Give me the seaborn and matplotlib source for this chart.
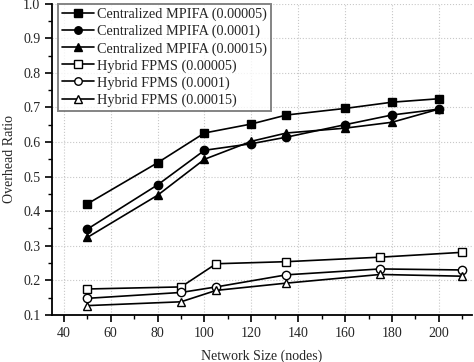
import numpy as np
import pandas as pd
import matplotlib
matplotlib.use("Agg")
import matplotlib.pyplot as plt
import seaborn as sns
from matplotlib.ticker import MultipleLocator

# Datos
x_central = [50, 80, 100, 120, 135, 160, 180, 200]
mpifa_00005 = [0.421, 0.540, 0.626, 0.652, 0.678, 0.697, 0.715, 0.725]
mpifa_0001 = [0.348, 0.476, 0.576, 0.595, 0.614, 0.650, 0.678, 0.695]
mpifa_00015 = [0.324, 0.446, 0.550, 0.602, 0.626, 0.640, 0.657, 0.695]

x_hybrid = [50, 90, 105, 135, 175, 210]
fpms_00005 = [0.175, 0.181, 0.248, 0.254, 0.267, 0.281]
fpms_0001 = [0.148, 0.165, 0.181, 0.216, 0.233, 0.230]
fpms_00015 = [0.127, 0.138, 0.171, 0.192, 0.217, 0.212]

labels = ["Centralized MPIFA (0.00005)", "Centralized MPIFA (0.0001)",
          "Centralized MPIFA (0.00015)", "Hybrid FPMS (0.00005)",
          "Hybrid FPMS (0.0001)", "Hybrid FPMS (0.00015)"]

series = [
    (x_central, mpifa_00005, "s", "black"),
    (x_central, mpifa_0001, "o", "black"),
    (x_central, mpifa_00015, "^", "black"),
    (x_hybrid, fpms_00005, "s", "white"),
    (x_hybrid, fpms_0001, "o", "white"),
    (x_hybrid, fpms_00015, "^", "white"),
]

sns.set_style("ticks")
plt.rcParams['font.family'] = 'serif'
plt.rcParams['font.serif'] = ['Liberation Serif', 'DejaVu Serif']

fig = plt.figure(figsize=(4.74, 3.62), dpi=100)
ax = fig.add_axes([0.11, 0.13, 0.885, 0.86])

for (xs, ys, mk, fc), lab in zip(series, labels):
    df = pd.DataFrame({"x": xs, "y": ys})
    sns.lineplot(data=df, x="x", y="y", ax=ax, color="black", linewidth=1.2,
                 marker=mk, markersize=6, markerfacecolor=fc,
                 markeredgecolor="black", markeredgewidth=1.0, label=lab)

ax.set_xlim(35, 214)
ax.set_ylim(0.1, 1.0)
ax.xaxis.set_major_locator(MultipleLocator(20))
ax.xaxis.set_minor_locator(MultipleLocator(10))
ax.yaxis.set_major_locator(MultipleLocator(0.1))
ax.yaxis.set_minor_locator(MultipleLocator(0.05))
ax.grid(True, which="major", linestyle=":", color="#c8c8c8", linewidth=0.8)
ax.tick_params(axis="both", which="major", labelsize=10, length=5, width=1.2, color="black")
ax.tick_params(axis="both", which="minor", length=3, width=1.0, color="black")
for s in ["left", "bottom"]:
    ax.spines[s].set_linewidth(1.3)
    ax.spines[s].set_color("black")
sns.despine(ax=ax)

ax.set_xlabel("Network Size (nodes)", fontsize=10, labelpad=7)
ax.set_ylabel("Overhead Ratio", fontsize=10, labelpad=5)

leg = ax.legend(loc="upper left", bbox_to_anchor=(0.014, 1.0), borderaxespad=0,
                fontsize=10.3, frameon=True, fancybox=False, edgecolor="#666666",
                handlelength=2.2, borderpad=0.3, labelspacing=0.25,
                handletextpad=0.2, markerscale=0.9)
leg.get_frame().set_linewidth(1.4)

fig.savefig("out.png", dpi=100)
